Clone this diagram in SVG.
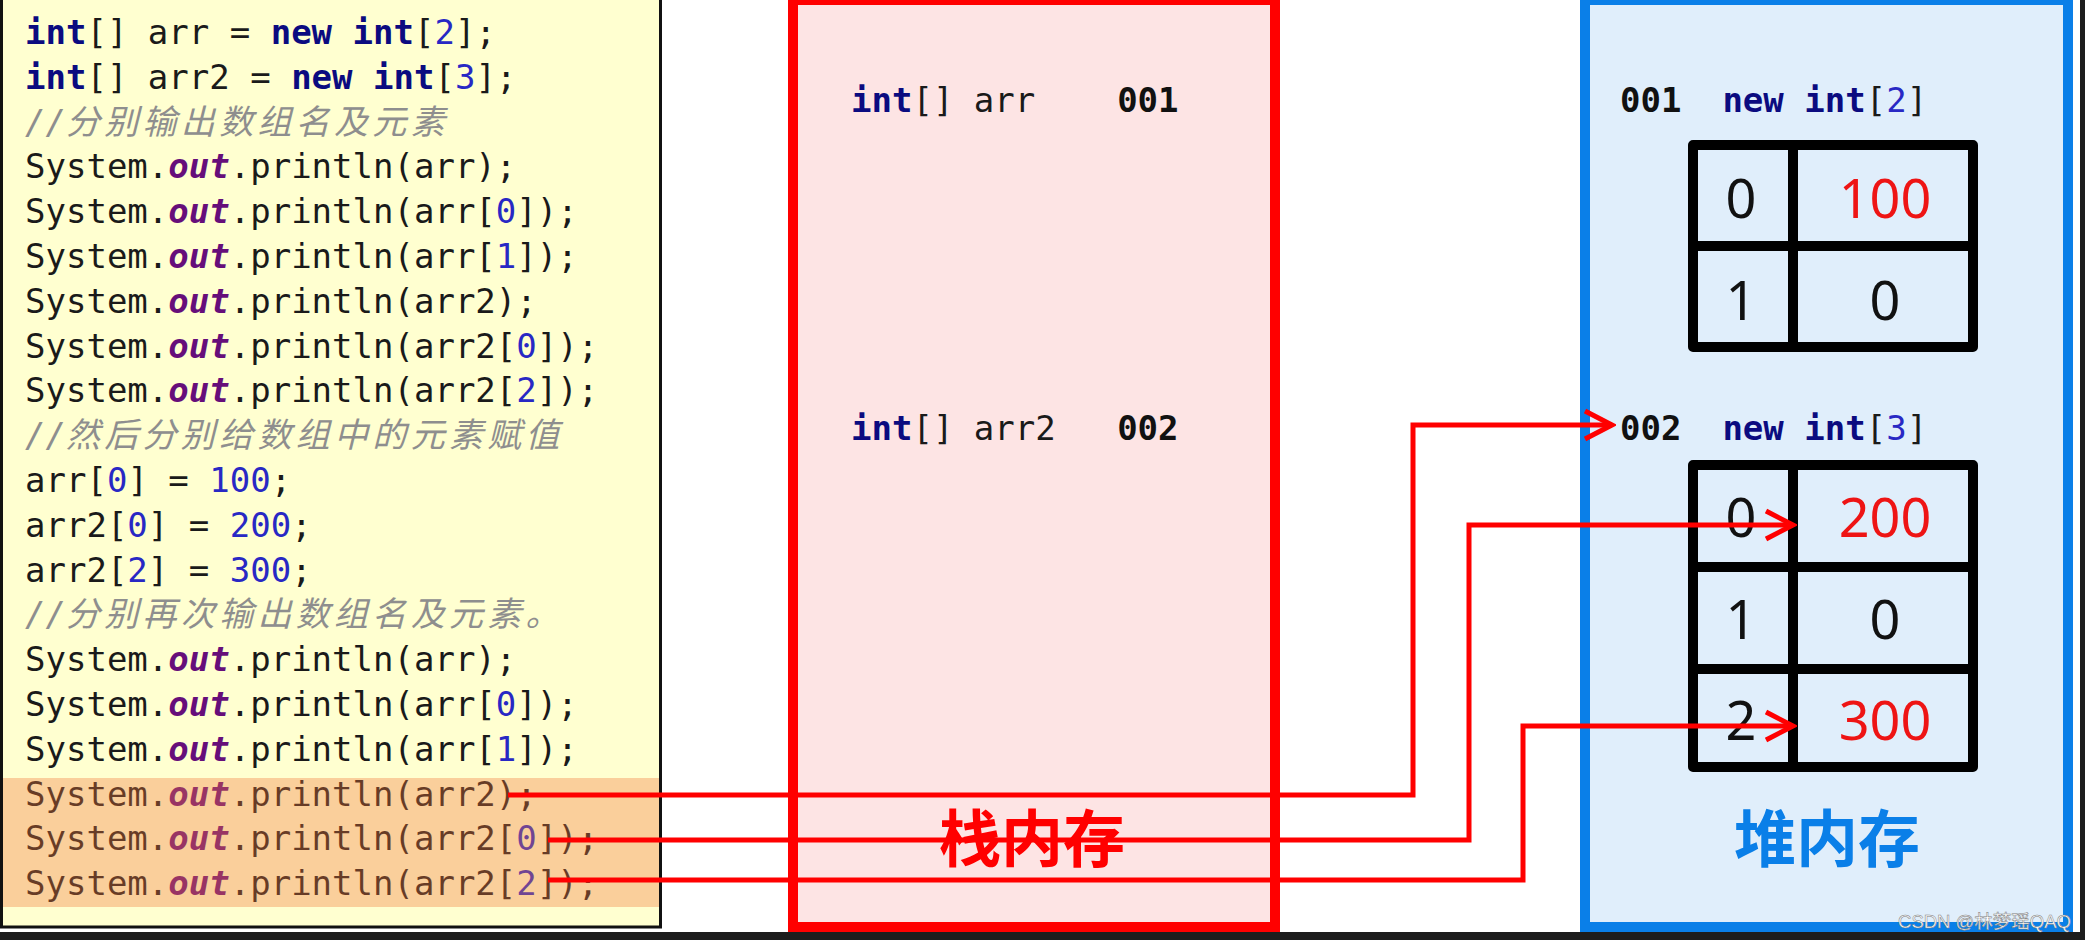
<svg xmlns="http://www.w3.org/2000/svg" width="2085" height="940" viewBox="0 0 2085 940">
<style>
.code{font-family:"DejaVu Sans Mono","Liberation Mono","Noto Sans CJK SC",monospace;font-size:34px;fill:#1a1a1a;white-space:pre}
.kw{font-weight:bold;fill:#0b0b80}
.num{fill:#2828c4}
.out{font-weight:bold;font-style:italic;fill:#660e7a}
.cm{font-style:italic;fill:#8e8e8e}
.cj{letter-spacing:4.3px;font-family:"Noto Sans CJK SC",sans-serif}
.addr{font-weight:bold;fill:#111}
.cell{font-family:"Noto Sans","Open Sans",sans-serif;font-size:54px;text-anchor:middle;fill:#111}
.red{fill:#ee1414}
.title{font-family:"Noto Sans CJK SC",sans-serif;font-weight:bold;font-size:62px;text-anchor:middle}
.conn{fill:none;stroke:#ff0000;stroke-width:5;stroke-linejoin:miter}
.grid{fill:none;stroke:#000;stroke-width:10;stroke-linejoin:round}
</style>
<defs>
<marker id="chev" markerUnits="userSpaceOnUse" markerWidth="36" markerHeight="36" viewBox="0 0 36 36" refX="32" refY="18" orient="auto">
<path d="M5,4 L32,18 L5,32" fill="none" stroke="#ff0000" stroke-width="5" stroke-linejoin="miter"/>
</marker>
</defs>
<rect width="2085" height="940" fill="#ffffff"/>

<g id="code">
<rect x="1.5" y="-2" width="659" height="929" fill="#ffffd0" stroke="#111" stroke-width="3"/>
<text class="code" x="25" y="44"><tspan class="kw">int</tspan>[] arr = <tspan class="kw">new</tspan> <tspan class="kw">int</tspan>[<tspan class="num">2</tspan>];</text>
<text class="code" x="25" y="88.8"><tspan class="kw">int</tspan>[] arr2 = <tspan class="kw">new</tspan> <tspan class="kw">int</tspan>[<tspan class="num">3</tspan>];</text>
<text class="code cm" x="25" y="133.6">//<tspan class="cj">分别输出数组名及元素</tspan></text>
<text class="code" x="25" y="178.4">System.<tspan class="out">out</tspan>.println(arr);</text>
<text class="code" x="25" y="223.2">System.<tspan class="out">out</tspan>.println(arr[<tspan class="num">0</tspan>]);</text>
<text class="code" x="25" y="268">System.<tspan class="out">out</tspan>.println(arr[<tspan class="num">1</tspan>]);</text>
<text class="code" x="25" y="312.8">System.<tspan class="out">out</tspan>.println(arr2);</text>
<text class="code" x="25" y="357.6">System.<tspan class="out">out</tspan>.println(arr2[<tspan class="num">0</tspan>]);</text>
<text class="code" x="25" y="402.4">System.<tspan class="out">out</tspan>.println(arr2[<tspan class="num">2</tspan>]);</text>
<text class="code cm" x="25" y="447.2">//<tspan class="cj">然后分别给数组中的元素赋值</tspan></text>
<text class="code" x="25" y="492">arr[<tspan class="num">0</tspan>] = <tspan class="num">100</tspan>;</text>
<text class="code" x="25" y="536.8">arr2[<tspan class="num">0</tspan>] = <tspan class="num">200</tspan>;</text>
<text class="code" x="25" y="581.6">arr2[<tspan class="num">2</tspan>] = <tspan class="num">300</tspan>;</text>
<text class="code cm" x="25" y="626.4">//<tspan class="cj">分别再次输出数组名及元素。</tspan></text>
<text class="code" x="25" y="671.2">System.<tspan class="out">out</tspan>.println(arr);</text>
<text class="code" x="25" y="716">System.<tspan class="out">out</tspan>.println(arr[<tspan class="num">0</tspan>]);</text>
<text class="code" x="25" y="760.8">System.<tspan class="out">out</tspan>.println(arr[<tspan class="num">1</tspan>]);</text>
<text class="code" x="25" y="805.6">System.<tspan class="out">out</tspan>.println(arr2);</text>
<text class="code" x="25" y="850.4">System.<tspan class="out">out</tspan>.println(arr2[<tspan class="num">0</tspan>]);</text>
<text class="code" x="25" y="895.2">System.<tspan class="out">out</tspan>.println(arr2[<tspan class="num">2</tspan>]);</text>
<rect x="3" y="778" width="656" height="129" fill="#f07a3c" opacity="0.36"/>
</g>

<g id="stack">
<rect x="793" y="0" width="482" height="927" fill="#fde4e4" stroke="#ff0000" stroke-width="10"/>
<text class="code" x="851" y="112"><tspan class="kw">int</tspan>[] arr    <tspan class="addr">001</tspan></text>
<text class="code" x="851" y="440"><tspan class="kw">int</tspan>[] arr2   <tspan class="addr">002</tspan></text>
<text class="title" x="1032" y="862" fill="#ff0000">栈内存</text>
</g>

<g id="heap">
<rect x="1585" y="0" width="483" height="927" fill="#e0eefb" stroke="#0a7fe8" stroke-width="10"/>
<text class="code" x="1620" y="112"><tspan class="addr">001</tspan>  <tspan class="kw">new</tspan> <tspan class="kw">int</tspan>[<tspan class="num">2</tspan>]</text>
<text class="code" x="1620" y="440"><tspan class="addr">002</tspan>  <tspan class="kw">new</tspan> <tspan class="kw">int</tspan>[<tspan class="num">3</tspan>]</text>
<text class="title" x="1827" y="862" fill="#0a7fe8">堆内存</text>
</g>

<g id="array1">
<rect class="grid" x="1693" y="145" width="280" height="202"/>
<line x1="1793" y1="145" x2="1793" y2="347" stroke="#000" stroke-width="10"/>
<line x1="1693" y1="246" x2="1973" y2="246" stroke="#000" stroke-width="10"/>
<text class="cell" x="1741" y="218">0</text>
<text class="cell red" x="1885" y="218">100</text>
<text class="cell" x="1741" y="320">1</text>
<text class="cell" x="1885" y="320">0</text>
</g>

<g id="array2">
<rect class="grid" x="1693" y="465" width="280" height="302"/>
<line x1="1793" y1="465" x2="1793" y2="767" stroke="#000" stroke-width="10"/>
<line x1="1693" y1="567" x2="1973" y2="567" stroke="#000" stroke-width="10"/>
<line x1="1693" y1="669" x2="1973" y2="669" stroke="#000" stroke-width="10"/>
<text class="cell" x="1741" y="537">0</text>
<text class="cell red" x="1885" y="537">200</text>
<text class="cell" x="1741" y="639">1</text>
<text class="cell" x="1885" y="639">0</text>
<text class="cell" x="1741" y="740">2</text>
<text class="cell red" x="1885" y="740">300</text>
</g>

<g id="connectors">
<path class="conn" d="M508,795 H1413 V425 H1612" marker-end="url(#chev)"/>
<path class="conn" d="M548,840 H1469 V525 H1793" marker-end="url(#chev)"/>
<path class="conn" d="M548,880 H1523 V726 H1793" marker-end="url(#chev)"/>
</g>

<g id="frame">
<rect x="0" y="932" width="2085" height="8" fill="#1d1d1d"/>
<rect x="2080" y="0" width="5" height="940" fill="#1d1d1d"/>
<text x="2071" y="928" text-anchor="end" font-family="Liberation Sans,Noto Sans CJK SC,sans-serif" font-size="18.5" fill="#ffffff" stroke="#7a7a7a" stroke-width="0.5">CSDN @林梦瑶QAQ</text>
</g>
</svg>
